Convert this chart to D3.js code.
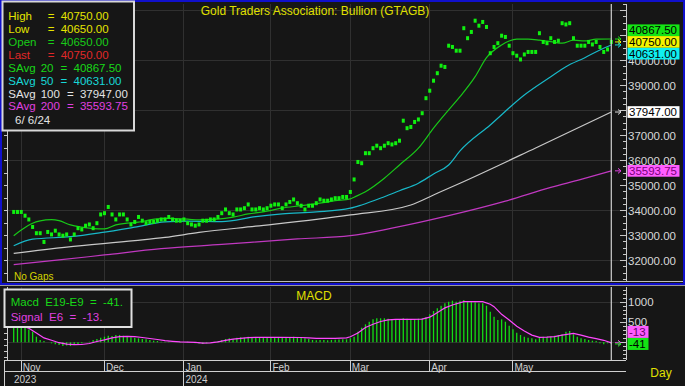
<!DOCTYPE html>
<html lang="en">
<head>
<meta charset="UTF-8">
<script src="https://d3js.org/d3.v7.min.js"></script>
<title>Gold Traders Association: Bullion (GTAGB)</title>
<style>
    body { margin: 0; background: #161616; }
    svg { display: block; font-family: "Liberation Sans", Arial, sans-serif; }
</style>
</head>
<body>
<div id="chart"></div>
<script>
// ---------------- data ----------------
const firstDay = "2023-10-30";
const lastDay = "2024-06-06";

// daily closes, one per weekday
const closes = [
    // Oct 30 - Nov
    33950, 33950, 33950, 33800, 33650, 33350, 33100, 33100, 32750, 33150,
    33050, 33200, 33050, 33000, 33050, 32850, 33050, 33300, 33250, 33400,
    33450, 33300, 33500, 33850,
    // Dec
    33900, 34150, 33850, 33650, 33850, 33850, 33650, 33450, 33550, 33750,
    33600, 33500, 33550, 33550, 33600, 33650, 33650, 33750, 33650, 33600, 33600,
    // Jan
    33650, 33500, 33450, 33400, 33450, 33600, 33600, 33650, 33650, 33750,
    33900, 34050, 33900, 33850, 34050, 34050, 34100, 34250, 34050, 34050,
    34100, 34050, 34100,
    // Feb
    34200, 34250, 34250, 34100, 34250, 34350, 34450, 34300, 34200, 34050,
    34200, 34200, 34300, 34450, 34400, 34400, 34450, 34500, 34500, 34550, 34550,
    // Mar
    34750, 35250, 35950, 35900, 36300, 36300, 36500, 36600, 36500, 36600,
    36700, 36650, 36700, 36800, 37600, 37300, 37350, 37550, 37650, 37900, 38500,
    // Apr
    38800, 39200, 39500, 39800, 39750, 40600, 40550, 40400, 40400, 41300,
    40900, 41150, 41600, 41400, 41550, 41350, 40300, 40550, 40700, 41000,
    40950, 40600,
    // May - Jun 6
    40300, 40200, 40050, 40250, 40350, 40350, 40350, 41100, 40750, 40700,
    40900, 40750, 40800, 41500, 41450, 41500, 40900, 40600, 40600, 40600,
    40750, 40650, 40750, 40550, 40350, 40450, 40750
];

// simple averages, [day index, value]
const sma20 = [[0, 33000], [2, 33230], [5, 33500], [7, 33590], [10, 33640], [12, 33600],
    [15, 33430], [18, 33340], [21, 33280], [24, 33270], [27, 33430], [30, 33500],
    [33, 33540], [36, 33630], [40, 33690], [46, 33660], [49, 33630], [54, 33660],
    [58, 33740], [62, 33870], [67, 33980], [71, 34110], [76, 34200], [80, 34280],
    [85, 34400], [89, 34470], [90, 34540], [93, 34760], [98, 35300], [102, 35830],
    [107, 36500], [111, 37300], [115, 38030], [118, 38560], [122, 39360], [125, 40120],
    [129, 40630], [131, 40790], [133, 40860], [136, 40860], [139, 40820], [142, 40760],
    [145, 40700], [148, 40820], [151, 40790], [154, 40860], [158, 40867.5]];
const sma50 = [[0, 32600], [5, 32860], [15, 32960], [23, 33120], [32, 33340], [40, 33550],
    [46, 33580], [55, 33560], [64, 33760], [71, 33870], [80, 33950], [89, 34100],
    [92, 34230], [98, 34560], [102, 34800], [107, 35100], [111, 35470], [115, 35830],
    [118, 36390], [126, 37430], [135, 38630], [142, 39360], [146, 39760], [151, 40120],
    [155, 40430], [158, 40631]];
const sma100 = [[0, 32290], [14, 32540], [32, 32800], [40, 32930], [49, 33130], [64, 33380],
    [80, 33650], [89, 33830], [105, 34230], [111, 34630], [118, 35100], [138, 36510],
    [158, 37947]];
const sma200 = [[0, 31840], [12, 32030], [24, 32230], [39, 32480], [55, 32650], [75, 32870],
    [89, 33000], [100, 33300], [115, 33800], [130, 34380], [142, 34930], [150, 35250],
    [158, 35593.75]];

// MACD histogram, one per day
const macd = [
    450, 430, 400, 360, 320, 265, 140, 58, 33, 0,
    -25, -50, -67, -92, -83, -92, -50, -67, -25, 0,
    15, 58, 83, 115, 140, 165, 160, 183, 183, 165,
    140, 125, 115, 100, 83, 75, 58, 40, 33, 15,
    15, 15, 0, 0, -10, 0, 15, 0, -25, -33,
    -40, -25, 0, 15, 33, 58, 83, 100, 83, 115,
    125, 115, 140, 115, 125, 125, 115, 125, 125, 125,
    125, 115, 115, 125, 140, 125, 115, 100, 83, 58,
    50, 60, 55, 50, 60, 65, 70, 75, 75, 100,
    140, 265, 365, 450, 515, 575, 600, 600, 600, 590,
    580, 575, 580, 600, 590, 580, 580, 590, 600, 625,
    700, 783, 850, 915, 975, 1015, 1040, 1015, 1040, 1058,
    1015, 1015, 1000, 975, 975, 915, 765, 640, 558, 575,
    515, 415, 325, 240, 183, 140, 115, 100, 75, 125,
    140, 140, 140, 165, 183, 200, 265, 283, 200, 140,
    100, 83, 58, 40, 33, -25, -50, -25, -41
];
// signal line, [day index, value]
const signal = [[0, 430], [2, 410], [4, 350], [6, 230], [8, 110], [10, 50], [12, -10],
    [14, -45], [16, -60], [18, -55], [20, -30], [22, 20], [24, 60], [26, 110], [28, 140],
    [30, 150], [32, 140], [34, 120], [36, 95], [38, 70], [40, 40], [42, 25], [44, 10],
    [46, 5], [48, 0], [50, -20], [52, -15], [54, 10], [56, 50], [58, 80], [60, 100],
    [62, 115], [64, 125], [70, 125], [76, 120], [78, 110], [80, 100], [85, 100], [88, 110],
    [89, 140], [91, 230], [93, 370], [95, 450], [97, 520], [99, 560], [101, 575], [105, 575],
    [108, 580], [110, 630], [111, 683], [113, 800], [114, 860], [116, 933], [119, 1015],
    [124, 1015], [126, 950], [127, 890], [129, 700], [131, 558], [133, 400], [135, 280],
    [137, 180], [139, 125], [141, 130], [143, 140], [145, 180], [148, 225], [150, 180],
    [152, 130], [154, 90], [156, 50], [158, -13]];

const monthNames = ["Jan", "Feb", "Mar", "Apr", "May", "Jun", "Jul", "Aug", "Sep", "Oct", "Nov", "Dec"];
const priceLabels = [32000, 33000, 34000, 35000, 36000, 37000, 38000, 39000, 40000];
const macdLabels = [500, 1000];

const legendRows = [
    { name: "High", period: "", value: "40750.00", color: "#e4e400" },
    { name: "Low", period: "", value: "40650.00", color: "#e4e400" },
    { name: "Open", period: "", value: "40650.00", color: "#18cc18" },
    { name: "Last", period: "", value: "40750.00", color: "#e02828" },
    { name: "SAvg", period: "20", value: "40867.50", color: "#18d818" },
    { name: "SAvg", period: "50", value: "40631.00", color: "#18d8d8" },
    { name: "SAvg", period: "100", value: "37947.00", color: "#e4e4e4" },
    { name: "SAvg", period: "200", value: "35593.75", color: "#e040e0" }
];
const legendDate = "6/ 6/24";

// value tags on the right axis
const priceTags = [
    { value: 40867.5, text: "40867.50", bg: "#14e414", fg: "#000", arrow: "#14e414" },
    { value: 40750, text: "40750.00", bg: "#f4f400", fg: "#000", arrow: "#f4f400", anchor: true },
    { value: 40631, text: "40631.00", bg: "#10f0f0", fg: "#000", arrow: "#10e0e0" },
    { value: 37947, text: "37947.00", bg: "#ffffff", fg: "#000", arrow: "#e0e0e0" },
    { value: 35593.75, text: "35593.75", bg: "#ff5cff", fg: "#7a007a", arrow: "#e040e0" }
];
const macdTags = [
    { value: -13, text: "-13", bg: "#ff5cff", fg: "#6a006a", arrow: "#ff40ff" },
    { value: -41, text: "-41", bg: "#14e414", fg: "#000", arrow: "#14e414", anchor: true }
];

// ---------------- drawing ----------------
const W = 685, H = 386;
const BG = "#161616", GRID = "#303030", AXIS = "#c8c8c8";

const days = d3.timeDay.range(d3.timeParse("%Y-%m-%d")(firstDay),
    d3.timeDay.offset(d3.timeParse("%Y-%m-%d")(lastDay), 1))
    .filter(d => d.getDay() !== 0 && d.getDay() !== 6);

const x = d3.scaleLinear().domain([0, closes.length - 1]).range([13.7, 611.3]);
const y = d3.scaleLinear().domain([32000, 42000]).range([260.7, 10.7]);
const ym = d3.scaleLinear().domain([0, 1000]).range([342.3, 302.3]);

// month starts, leaving out a month that begins too close to the last bar
const monthStarts = days.map((d, i) => i)
    .filter(i => i > 0 && days[i].getMonth() !== days[i - 1].getMonth())
    .filter(i => x(closes.length - 1) - x(i) > 25);

const main = { left: 7, right: 626, top: 4, bottom: 281.5 };
const sub = { top: 287, bottom: 360 };

const svg = d3.select("#chart").append("svg")
    .attr("width", W)
    .attr("height", H);

svg.append("rect").attr("width", W).attr("height", H).attr("fill", BG);

// grid
const grid = svg.append("g").attr("stroke", GRID).attr("shape-rendering", "crispEdges");
d3.range(32000, 42001, 2000).forEach(v => {
    grid.append("line").attr("x1", main.left).attr("x2", 620).attr("y1", y(v)).attr("y2", y(v));
});
[0, 1000].forEach(v => {
    grid.append("line").attr("x1", main.left).attr("x2", 620).attr("y1", ym(v)).attr("y2", ym(v));
});
monthStarts.forEach(i => {
    grid.append("line").attr("x1", x(i)).attr("x2", x(i)).attr("y1", main.top).attr("y2", main.bottom);
    grid.append("line").attr("x1", x(i)).attr("x2", x(i)).attr("y1", sub.top).attr("y2", sub.bottom);
});

// moving averages
const maLine = d3.line().x(d => x(d[0])).y(d => y(d[1])).curve(d3.curveMonotoneX);
[[sma200, "#c038c0"], [sma100, "#c8c8c8"], [sma50, "#18b8c8"], [sma20, "#18c818"]].forEach(([data, color]) => {
    svg.append("path")
        .attr("d", maLine(data))
        .attr("fill", "none")
        .attr("stroke", color)
        .attr("stroke-width", 1.2);
});

// close dots
svg.append("g").selectAll("rect")
    .data(closes)
    .join("rect")
    .attr("x", (d, i) => x(i) - 1.5)
    .attr("y", d => y(d) - 2)
    .attr("width", 3)
    .attr("height", 4)
    .attr("fill", "#10f010");

// macd histogram + signal
svg.append("g").selectAll("line")
    .data(macd)
    .join("line")
    .attr("x1", (d, i) => x(i))
    .attr("x2", (d, i) => x(i))
    .attr("y1", ym(0))
    .attr("y2", d => ym(d))
    .attr("stroke", "#14dc14")
    .attr("stroke-width", 1.3);
svg.append("path")
    .attr("d", d3.line().x(d => x(d[0])).y(d => ym(d[1]))(signal))
    .attr("fill", "none")
    .attr("stroke", "#ff48ff")
    .attr("stroke-width", 1.2);

// last bar marker
const xLast = x(closes.length - 1);
[[main.top, main.bottom], [sub.top, sub.bottom]].forEach(([a, b]) => {
    svg.append("line").attr("x1", xLast).attr("x2", xLast).attr("y1", a).attr("y2", b)
        .attr("stroke", "#d0d0d0").attr("stroke-width", 1.2);
});

// axes
const ax = svg.append("g").attr("stroke", AXIS).attr("shape-rendering", "crispEdges");
[[main.top, main.bottom], [sub.top, sub.bottom]].forEach(([a, b]) => {
    ax.append("line").attr("x1", main.right).attr("x2", main.right).attr("y1", a).attr("y2", b);
    ax.append("line").attr("x1", main.left).attr("x2", main.left).attr("y1", a).attr("y2", b);
});
d3.range(31250, 42251, 250).forEach(v => {
    if (y(v) < main.top || y(v) > main.bottom) return;
    const len = v % 1000 === 0 ? 6 : 3;
    ax.append("line").attr("x1", main.right - len).attr("x2", main.right).attr("y1", y(v)).attr("y2", y(v));
});
d3.range(31500, 42001, 500).forEach(v => {
    if (y(v) < main.top || y(v) > main.bottom) return;
    ax.append("line").attr("x1", main.left - 3).attr("x2", main.left).attr("y1", y(v)).attr("y2", y(v));
});
d3.range(-400, 1301, 100).forEach(v => {
    if (ym(v) < sub.top || ym(v) > sub.bottom) return;
    const len = v % 500 === 0 ? 6 : 3;
    ax.append("line").attr("x1", main.right - len).attr("x2", main.right).attr("y1", ym(v)).attr("y2", ym(v));
});
d3.range(-375, 1301, 150).forEach(v => {
    if (ym(v) < sub.top || ym(v) > sub.bottom) return;
    ax.append("line").attr("x1", main.left - 3).attr("x2", main.left).attr("y1", ym(v)).attr("y2", ym(v));
});

// panel borders
svg.append("line").attr("x1", main.left).attr("x2", W).attr("y1", main.bottom).attr("y2", main.bottom)
    .attr("stroke", "#bdbdbd").attr("shape-rendering", "crispEdges");
svg.append("rect").attr("x", 1).attr("y", 1).attr("width", W - 2).attr("height", 283)
    .attr("fill", "none").attr("stroke", "#1010cc").attr("stroke-width", 2);
svg.append("line").attr("x1", 0).attr("x2", W).attr("y1", 285.5).attr("y2", 285.5)
    .attr("stroke", "#9a9a9a");

// price labels
svg.append("g").selectAll("text")
    .data(priceLabels)
    .join("text")
    .attr("x", 628)
    .attr("y", d => y(d) + 4)
    .attr("fill", "#d8d8d8")
    .attr("font-size", "11.5px")
    .text(d => d3.format(".2f")(d));
svg.append("g").selectAll("text")
    .data(macdLabels)
    .join("text")
    .attr("x", 628)
    .attr("y", d => ym(d) + 4)
    .attr("fill", "#d8d8d8")
    .attr("font-size", "11.5px")
    .text(d => d);

// stacked value tags: anchor stays, others pushed away
const placeTags = (tags, scale, h) => {
    const sorted = tags.slice().sort((a, b) => b.value - a.value);
    sorted.forEach(t => { t.cy = scale(t.value); });
    const k = sorted.findIndex(t => t.anchor);
    for (let i = k - 1; i >= 0; i--) sorted[i].cy = Math.min(sorted[i].cy, sorted[i + 1].cy - h);
    for (let i = k + 1; i < sorted.length; i++) sorted[i].cy = Math.max(sorted[i].cy, sorted[i - 1].cy + h);
    return sorted;
};
const drawTags = (tags, scale, h, w) => {
    const g = svg.append("g");
    tags.forEach(t => {
        const ay = scale(t.value);
        g.append("path")
            .attr("d", `M615,${ay}H621M618,${ay - 2.5}L621,${ay}L618,${ay + 2.5}`)
            .attr("fill", "none").attr("stroke", t.arrow).attr("stroke-width", 1);
    });
    placeTags(tags, scale, h).forEach(t => {
        g.append("rect").attr("x", 627.5).attr("y", t.cy - h / 2).attr("width", w).attr("height", h)
            .attr("fill", t.bg);
        g.append("text").attr("x", 629).attr("y", t.cy + 4.2)
            .attr("fill", t.fg).attr("font-size", "11.5px").text(t.text);
    });
};
drawTags(priceTags, y, 11.7, 52);
drawTags(macdTags, ym, 12, 21);

// titles
svg.append("text").attr("x", 315).attr("y", 15).attr("text-anchor", "middle")
    .attr("fill", "#e0e000").attr("font-size", "12px")
    .text("Gold Traders Association: Bullion (GTAGB)");
svg.append("text").attr("x", 314).attr("y", 299.5).attr("text-anchor", "middle")
    .attr("fill", "#e0e000").attr("font-size", "12px").text("MACD");
svg.append("text").attr("x", 14).attr("y", 280).attr("fill", "#d4d400")
    .attr("font-size", "10px").text("No Gaps");

// main legend
const leg = svg.append("g");
leg.append("rect").attr("x", 2.5).attr("y", 1.5).attr("width", 131.5).attr("height", 129)
    .attr("fill", BG).attr("stroke", "#d8d8d8").attr("stroke-width", 2);
legendRows.forEach((r, i) => {
    const by = 19.8 + i * 12.95;
    const t = leg.append("g").attr("fill", r.color).attr("font-size", "11.5px");
    t.append("text").attr("x", 8.3).attr("y", by).text(r.name);
    let eqX = 47.7;
    if (r.period) {
        const p = t.append("text").attr("x", 40.7).attr("y", by).text(r.period);
        eqX = 40.7 + p.node().getComputedTextLength() + 7;
    }
    t.append("text").attr("x", eqX).attr("y", by).text("=");
    t.append("text").attr("x", eqX + 13).attr("y", by).text(r.value);
});
leg.append("text").attr("x", 15).attr("y", 123.5).attr("fill", "#e4e4e4")
    .attr("font-size", "11.5px").text(legendDate);

// macd legend
const mleg = svg.append("g");
mleg.append("rect").attr("x", 4.5).attr("y", 289.5).attr("width", 127).attr("height", 37.5)
    .attr("fill", BG).attr("stroke", "#e0e0e0").attr("stroke-width", 2);
mleg.append("text").attr("x", 10.7).attr("y", 305.8).attr("fill", "#18d818")
    .attr("font-size", "11.5px").style("white-space", "pre").text("Macd  E19-E9  =  -41.");
mleg.append("text").attr("x", 10.7).attr("y", 320.8).attr("fill", "#e040e0")
    .attr("font-size", "11.5px").style("white-space", "pre").text("Signal  E6  =  -13.");

// date axis
const dx = svg.append("g").attr("stroke", "#d0d0d0").attr("shape-rendering", "crispEdges");
dx.append("line").attr("x1", 4).attr("x2", main.right).attr("y1", 360).attr("y2", 360);
dx.append("line").attr("x1", 4).attr("x2", main.right).attr("y1", 371.5).attr("y2", 371.5);
dx.append("line").attr("x1", 4).attr("x2", 4).attr("y1", 360).attr("y2", H);
monthStarts.forEach(i => {
    dx.append("line").attr("x1", x(i)).attr("x2", x(i)).attr("y1", 360).attr("y2", 371.5);
    svg.append("text").attr("x", x(i) + 1.5).attr("y", 370.5).attr("fill", "#d0d0d0")
        .attr("font-size", "10px").text(monthNames[days[i].getMonth()]);
});
const yearStarts = days.map((d, i) => i).filter(i => i === 0 || days[i].getFullYear() !== days[i - 1].getFullYear());
yearStarts.forEach(i => {
    const xx = i === 0 ? 4 : x(i);
    if (i > 0) dx.append("line").attr("x1", xx).attr("x2", xx).attr("y1", 371.5).attr("y2", H);
    svg.append("text").attr("x", i === 0 ? 14 : xx + 1.5).attr("y", 382.5).attr("fill", "#d0d0d0")
        .attr("font-size", "10px").text(days[i].getFullYear());
});
svg.append("text").attr("x", 661).attr("y", 377).attr("text-anchor", "middle")
    .attr("fill", "#e0e000").attr("font-size", "12px").text("Day");
</script>
</body>
</html>
